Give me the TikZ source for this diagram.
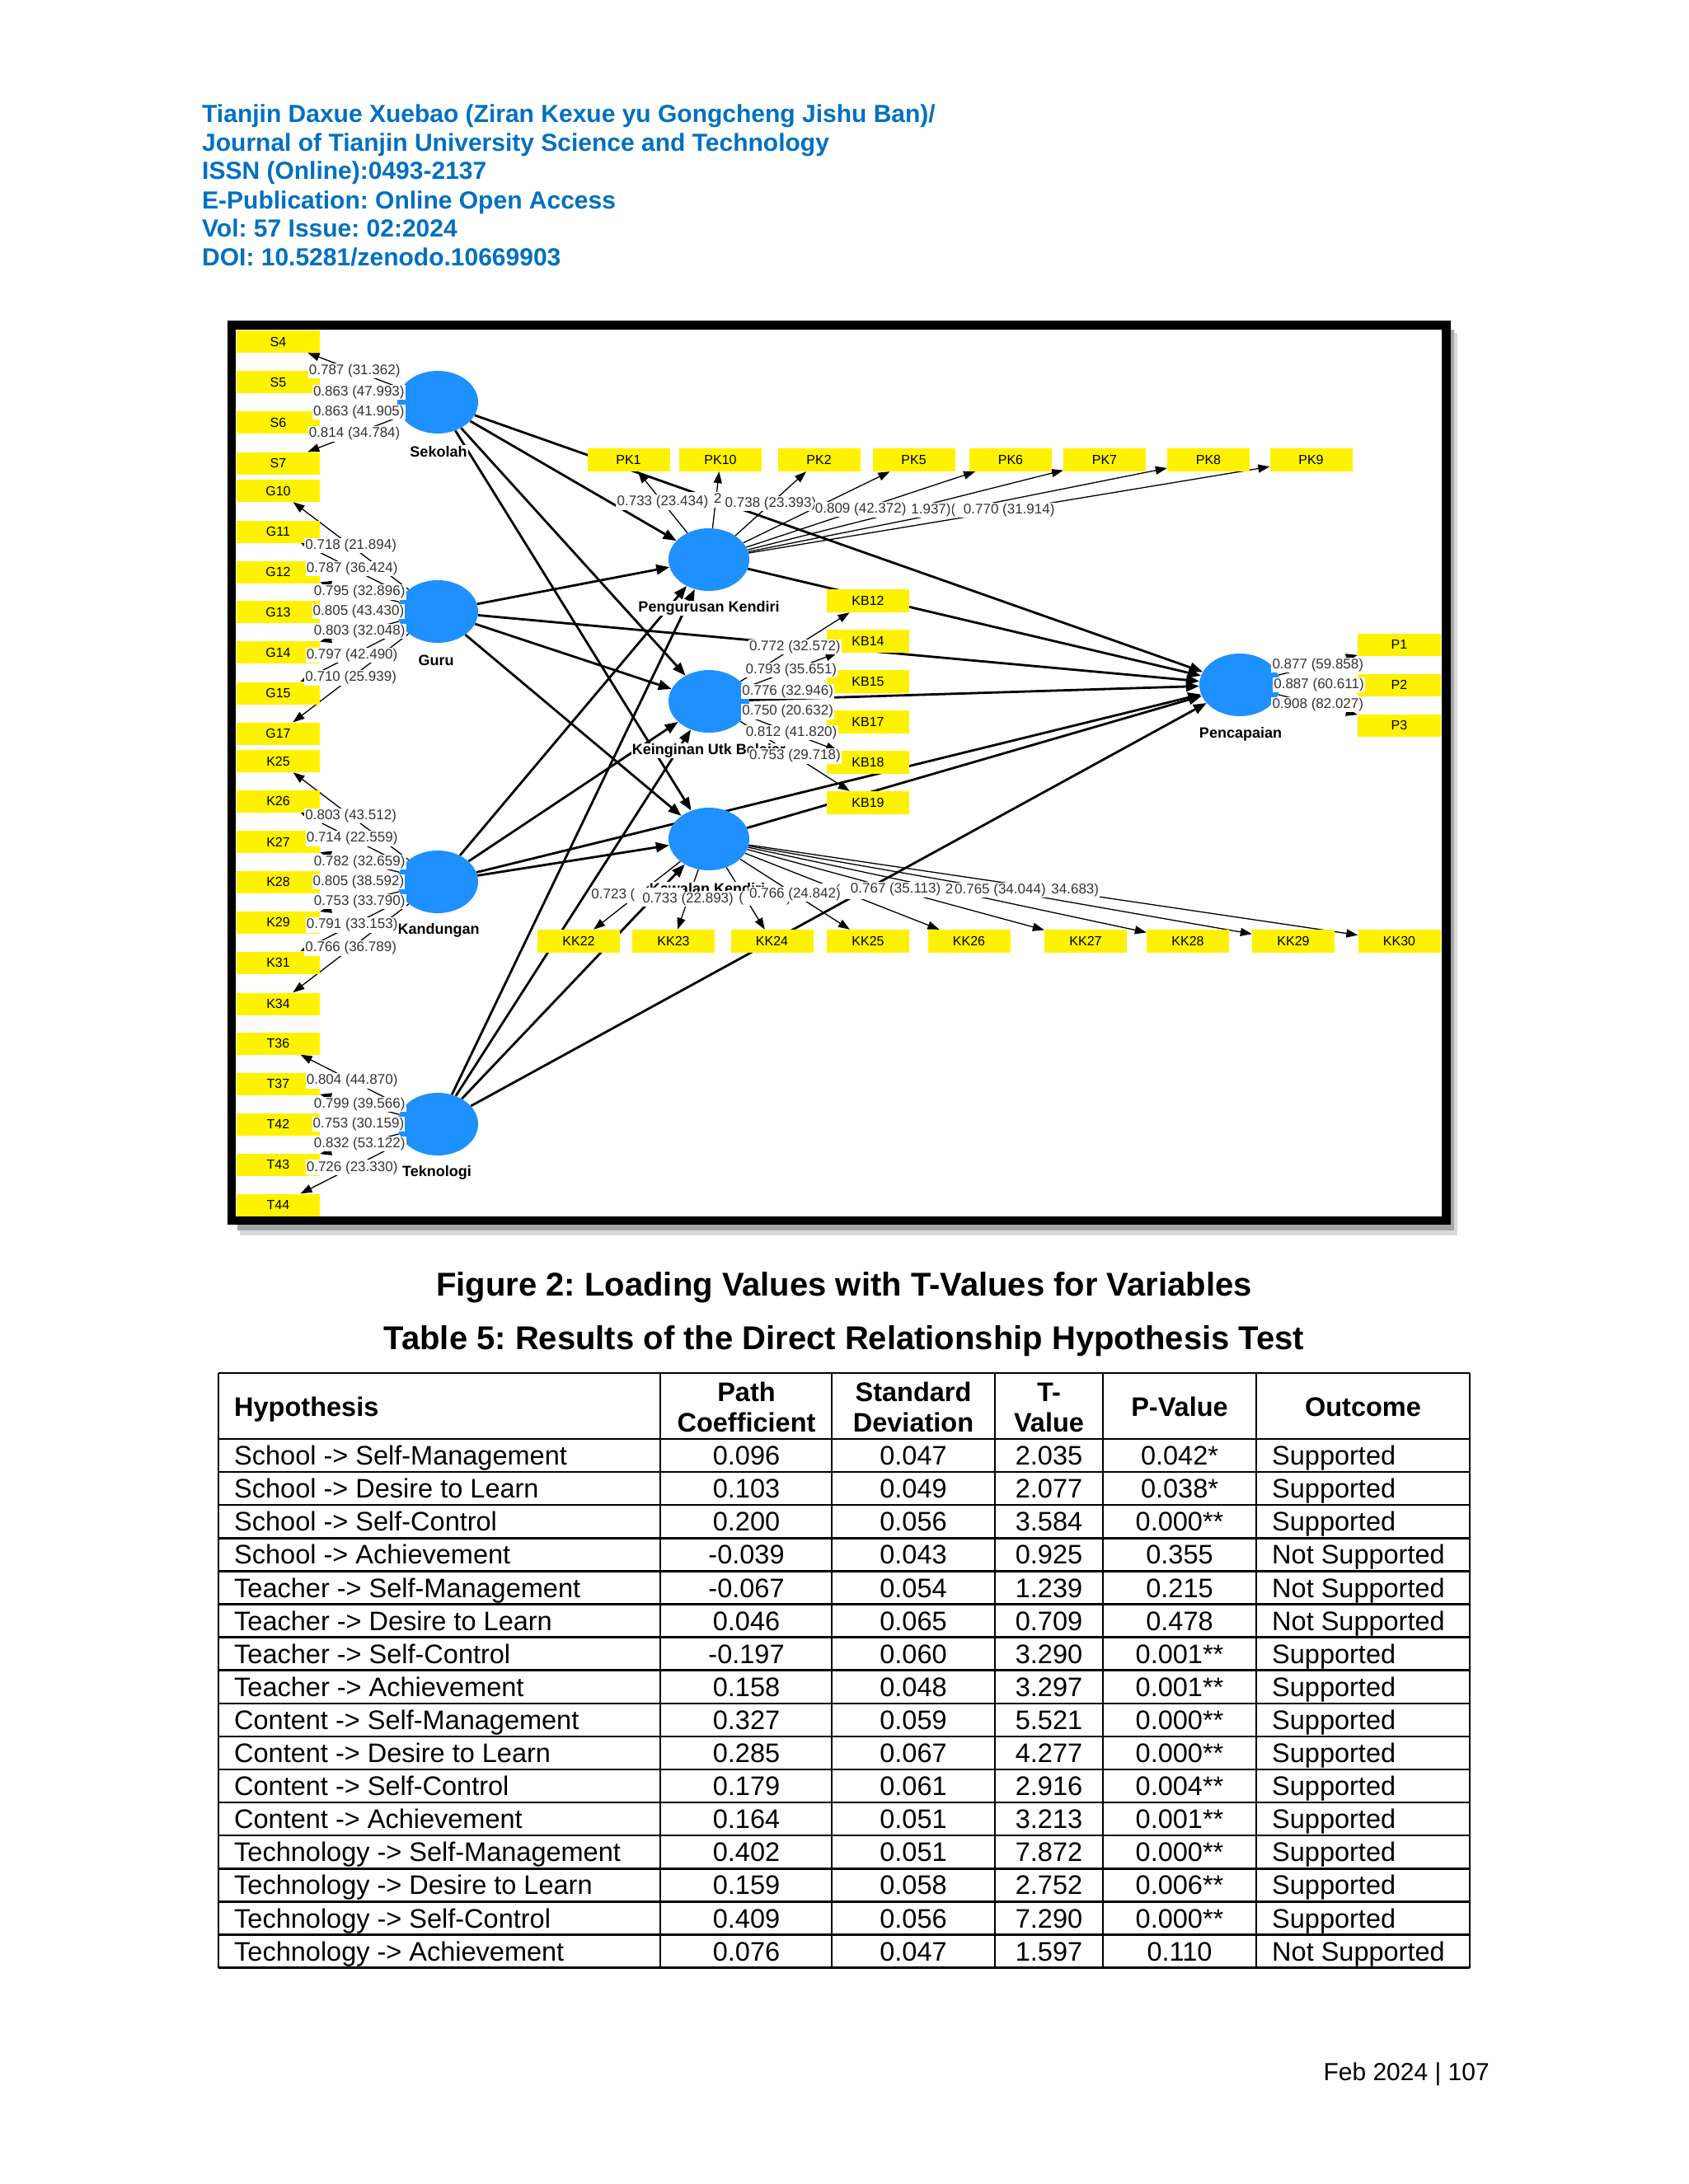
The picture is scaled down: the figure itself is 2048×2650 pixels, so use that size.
\documentclass[tikz,border=0pt]{standalone}
\usepackage{fontspec}
\setmainfont{Liberation Sans}
\usetikzlibrary{shapes.geometric,arrows.meta}
\frenchspacing
\definecolor{hdrblue}{HTML}{0070C0}
\definecolor{latblue}{HTML}{1E90FF}
\pgfdeclarelayer{back}
\pgfdeclarelayer{bg}
\pgfdeclarelayer{fg}
\pgfsetlayers{back,bg,main,fg}
\newcommand\myload[2]{\draw[load] (#1) -- coordinate[midway] (m#2) (#2);}
\newcommand\mylbl[2]{\node[lbl] (l#1) at (m#1) {#2};}
\tikzset{
  hdr/.style={anchor=base west, inner sep=0pt, text=hdrblue, font=\bfseries\fontsize{30}{34}\selectfont},
  captxt/.style={anchor=base, inner sep=0pt, font=\bfseries\fontsize{40}{44}\selectfont},
  ind/.style={rectangle, fill=yellow, minimum width=101pt, minimum height=27pt, inner sep=0pt, font=\fontsize{16}{16}\selectfont},
  indt/.style={ind, minimum width=100pt, minimum height=28pt},
  lat/.style={ellipse, fill=latblue, minimum width=98pt, minimum height=76pt, inner sep=0pt},
  latlbl/.style={fill=white, inner sep=1pt, font=\bfseries\fontsize{18}{18}\selectfont},
  lbl/.style={fill=white, inner sep=1.2pt, text=black!80, font=\fontsize{17}{17}\selectfont},
  spath/.style={line width=2.8pt, -{Triangle[length=16pt,width=12pt]}},
  load/.style={line width=1.3pt, -{Triangle[length=14pt,width=10pt]}},
  tcell/.style={inner sep=0pt, font=\fontsize{32.5}{36}\selectfont},
  thead/.style={inner sep=0pt, font=\bfseries\fontsize{32.5}{36}\selectfont},
  tline/.style={line width=2.5pt},
}
\begin{document}
\begin{tikzpicture}[x=1pt,y=-1pt]
\useasboundingbox (0,0) rectangle (2048,2650);

% ---------- page and frame ----------
\begin{pgfonlayer}{back}
\fill[white] (0,0) rectangle (2048,2650);
\fill[black!15] (291,404) rectangle (1768,1499);
\fill[black!35] (288,400) rectangle (1764,1493);
\filldraw[fill=white, draw=black, line width=10.5pt] (281,394.5) rectangle (1754.5,1481);
\end{pgfonlayer}

% ---------- header ----------
\node[hdr] (h1) at (245,148) {Tianjin Daxue Xuebao (Ziran Kexue yu Gongcheng Jishu Ban)/};
\node[hdr] (h2) at (245,183) {Journal of Tianjin University Science and Technology};
\node[hdr] (h3) at (245,217) {ISSN (Online):0493-2137};
\node[hdr] (h4) at (245,253) {E-Publication: Online Open Access};
\node[hdr] (h5) at (245,287) {Vol: 57 Issue: 02:2024};
\node[hdr] (h6) at (245,322) {DOI: 10.5281/zenodo.10669903};

% ---------- indicator boxes ----------
\foreach \n/\y in {S4/414.5,S5/463.5,S6/512.5,S7/562,G10/595.5,G11/645,G12/694,G13/742.5,G14/791.5,G15/841,G17/890,K25/923.5,K26/972,K27/1021.5,K28/1070,K29/1119,K31/1168,K34/1218,T36/1266,T37/1315,T42/1364,T43/1413,T44/1462}
  \node[ind] (\n) at (337.5,\y) {\n};
\foreach \n/\x in {PK1/762.5,PK10/874,PK2/993.6,PK5/1108.6,PK6/1226,PK7/1340,PK8/1466,PK9/1590.5}
  \node[indt] (\n) at (\x,558) {\n};
\foreach \n/\y in {KB12/729,KB14/778,KB15/827,KB17/876,KB18/925,KB19/974}
  \node[indt] (\n) at (1053,\y) {\n};
\foreach \n/\x in {KK22/702,KK23/817,KK24/936.5,KK25/1053,KK26/1175.5,KK27/1317,KK28/1441,KK29/1569,KK30/1697.5}
  \node[indt] (\n) at (\x,1142) {\n};
\foreach \n/\y in {P1/782,P2/831,P3/880}
  \node[ind] (\n) at (1697.5,\y) {\n};

% ---------- latent variables ----------
\node[lat] (sek) at (531,488) {};
\node[lat] (gur) at (531,742) {};
\node[lat] (kan) at (531,1070) {};
\node[lat] (tek) at (531,1364) {};
\node[lat] (pen) at (860,679) {};
\node[lat] (kei) at (860,851) {};
\node[lat] (kaw) at (860,1018) {};
\node[lat] (pc) at (1504,831) {};

\node[latlbl] (tsek) at (532,548) {Sekolah};
\node[latlbl] (tgur) at (529,801) {Guru};
\node[latlbl] (tkan) at (532,1129) {Kandungan};
\node[latlbl] (ttek) at (530,1423) {Teknologi};
\node[latlbl] (tpen) at (860,738) {Pengurusan Kendiri};
\node[latlbl] (tkei) at (860,911) {Keinginan Utk Belajar};
\node[latlbl] (tkaw) at (858,1078) {Kawalan Kendiri};
\node[latlbl] (tpc) at (1505,891) {Pencapaian};

% ---------- connectors ----------
\begin{pgfonlayer}{bg}
\foreach \a in {sek,gur,kan,tek}
  \foreach \b in {pen,kei,kaw,pc}
    \draw[spath] (\a) -- (\b);
\draw[spath] (pen) -- (pc);
\draw[spath] (kei) -- (pc);
\draw[spath] (kaw) -- (pc);

\myload{sek}{S4}\myload{sek}{S5}\myload{sek}{S6}\myload{sek}{S7}
\myload{gur}{G10}\myload{gur}{G11}\myload{gur}{G12}\myload{gur}{G13}\myload{gur}{G14}\myload{gur}{G15}\myload{gur}{G17}
\myload{kan}{K25}\myload{kan}{K26}\myload{kan}{K27}\myload{kan}{K28}\myload{kan}{K29}\myload{kan}{K31}\myload{kan}{K34}
\myload{tek}{T36}\myload{tek}{T37}\myload{tek}{T42}\myload{tek}{T43}\myload{tek}{T44}
\myload{pen}{PK1}\myload{pen}{PK10}\myload{pen}{PK2}\myload{pen}{PK5}\myload{pen}{PK6}\myload{pen}{PK7}\myload{pen}{PK8}\myload{pen}{PK9}
\myload{kei}{KB12}\myload{kei}{KB14}\myload{kei}{KB15}\myload{kei}{KB17}\myload{kei}{KB18}\myload{kei}{KB19}
\myload{kaw}{KK22}\myload{kaw}{KK23}\myload{kaw}{KK24}\myload{kaw}{KK25}\myload{kaw}{KK26}\myload{kaw}{KK27}\myload{kaw}{KK28}\myload{kaw}{KK29}\myload{kaw}{KK30}
\myload{pc}{P1}\myload{pc}{P2}\myload{pc}{P3}
\end{pgfonlayer}

% ---------- loading labels ----------
\begin{pgfonlayer}{fg}
\mylbl{S4}{0.787 (31.362)}
\mylbl{S5}{0.863 (47.993)}
\mylbl{S6}{0.863 (41.905)}
\mylbl{S7}{0.814 (34.784)}
\mylbl{G10}{0.718 (21.894)}
\mylbl{G11}{0.787 (36.424)}
\mylbl{G12}{0.795 (32.896)}
\mylbl{G13}{0.805 (43.430)}
\mylbl{G14}{0.803 (32.048)}
\mylbl{G15}{0.797 (42.490)}
\mylbl{G17}{0.710 (25.939)}
\mylbl{K25}{0.803 (43.512)}
\mylbl{K26}{0.714 (22.559)}
\mylbl{K27}{0.782 (32.659)}
\mylbl{K28}{0.805 (38.592)}
\mylbl{K29}{0.753 (33.790)}
\mylbl{K31}{0.791 (33.153)}
\mylbl{K34}{0.766 (36.789)}
\mylbl{T36}{0.804 (44.870)}
\mylbl{T37}{0.799 (39.566)}
\mylbl{T42}{0.753 (30.159)}
\mylbl{T43}{0.832 (53.122)}
\mylbl{T44}{0.726 (23.330)}
\mylbl{PK8}{\phantom{0.700 }(\phantom{00.000)}}
\mylbl{PK7}{\phantom{0.700 (3}1.937)}
\mylbl{PK10}{\phantom{0.700 (}2\phantom{0.000)}}
\mylbl{PK1}{0.733 (23.434)}
\mylbl{PK2}{0.738 (23.393)}
\mylbl{PK6}{0.809 (42.372)}
\mylbl{PK9}{0.770 (31.914)}
\mylbl{KB12}{0.772 (32.572)}
\mylbl{KB14}{0.793 (35.651)}
\mylbl{KB15}{0.776 (32.946)}
\mylbl{KB17}{0.750 (20.632)}
\mylbl{KB18}{0.812 (41.820)}
\mylbl{KB19}{0.753 (29.718)}
\mylbl{KK30}{\phantom{0.700 (}34.683)}
\mylbl{KK28}{\phantom{0.700 (}2\phantom{0.000)}}
\mylbl{KK26}{\phantom{0.700 }(\phantom{00.000)}}
\mylbl{KK24}{\phantom{0.700 }(\phantom{00.000})}
\mylbl{KK22}{0.723 (\phantom{00.000)}}
\mylbl{KK23}{0.733 (22.893)}
\mylbl{KK25}{0.766 (24.842)}
\mylbl{KK27}{0.767 (35.113)}
\mylbl{KK29}{0.765 (34.044)}
\mylbl{P1}{0.877 (59.858)}
\mylbl{P2}{0.887 (60.611)}
\mylbl{P3}{0.908 (82.027)}
\end{pgfonlayer}

% ---------- captions ----------
\node[captxt] (cap1) at (1024,1572) {Figure 2: Loading Values with T-Values for Variables};
\node[captxt] (cap2) at (1024,1637) {Table 5: Results of the Direct Relationship Hypothesis Test};

% ---------- table ----------
\foreach \x in {265,801,1009,1207,1338,1524,1783}
  \draw[tline] (\x,1666) -- (\x,2387.6);
\draw[tline] (265,1666) -- (1783,1666);
\foreach \k in {0,...,16}
  \draw[tline] (265,{1746+40.1*\k}) -- (1783,{1746+40.1*\k});

\node[thead, anchor=base west] (th1) at (284,1718) {Hypothesis};
\node[thead, anchor=base] (th2a) at (905.5,1700) {Path};
\node[thead, anchor=base] (th2b) at (905.5,1737) {Coefficient};
\node[thead, anchor=base] (th3a) at (1108,1700) {Standard};
\node[thead, anchor=base] (th3b) at (1108,1737) {Deviation};
\node[thead, anchor=base] (th4a) at (1272.5,1700) {T-};
\node[thead, anchor=base] (th4b) at (1272.5,1737) {Value};
\node[thead, anchor=base] (th5) at (1431,1718) {P-Value};
\node[thead, anchor=base] (th6) at (1653.5,1718) {Outcome};

\foreach \h/\a/\b/\c/\d/\e [count=\i] in {
  School -> Self-Management/0.096/0.047/2.035/0.042*/Supported,
  School -> Desire to Learn/0.103/0.049/2.077/0.038*/Supported,
  School -> Self-Control/0.200/0.056/3.584/0.000**/Supported,
  School -> Achievement/-0.039/0.043/0.925/0.355/Not Supported,
  Teacher -> Self-Management/-0.067/0.054/1.239/0.215/Not Supported,
  Teacher -> Desire to Learn/0.046/0.065/0.709/0.478/Not Supported,
  Teacher -> Self-Control/-0.197/0.060/3.290/0.001**/Supported,
  Teacher -> Achievement/0.158/0.048/3.297/0.001**/Supported,
  Content -> Self-Management/0.327/0.059/5.521/0.000**/Supported,
  Content -> Desire to Learn/0.285/0.067/4.277/0.000**/Supported,
  Content -> Self-Control/0.179/0.061/2.916/0.004**/Supported,
  Content -> Achievement/0.164/0.051/3.213/0.001**/Supported,
  Technology -> Self-Management/0.402/0.051/7.872/0.000**/Supported,
  Technology -> Desire to Learn/0.159/0.058/2.752/0.006**/Supported,
  Technology -> Self-Control/0.409/0.056/7.290/0.000**/Supported,
  Technology -> Achievement/0.076/0.047/1.597/0.110/Not Supported}
{
  \pgfmathsetmacro\yb{1746+40.1*(\i-0.5)+11.6}
  \node[tcell, anchor=base west] (r\i c1) at (284,\yb) {\h};
  \node[tcell, anchor=base] (r\i c2) at (905.5,\yb) {\a};
  \node[tcell, anchor=base] (r\i c3) at (1108,\yb) {\b};
  \node[tcell, anchor=base] (r\i c4) at (1272.5,\yb) {\c};
  \node[tcell, anchor=base] (r\i c5) at (1431,\yb) {\d};
  \node[tcell, anchor=base west] (r\i c6) at (1543,\yb) {\e};
}

% ---------- footer ----------
\node[anchor=base east, inner sep=0pt, font=\fontsize{30}{34}\selectfont] (foot) at (1807,2524) {Feb 2024 | 107};
\end{tikzpicture}
\end{document}
